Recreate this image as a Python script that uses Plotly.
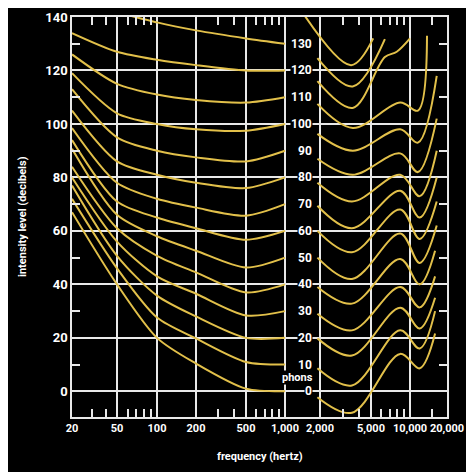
import numpy as np
import plotly.graph_objects as go

# axis: tick frequencies and where they sit on the (stretched) drawing
tick_freqs = [20, 50, 100, 200, 500, 1000, 2000, 5000, 10000, 20000]
tick_labels = ['20', '50', '100', '200', '500', '1,000', '2,000', '5,000', '10,000', '20,000']
tick_pos = [72, 117, 157, 196, 246, 285, 320, 371, 410, 447]
minor_freqs = [30, 40, 60, 70, 80, 90, 300, 400, 600, 700, 800, 900,
               3000, 4000, 6000, 7000, 8000, 9000, 15000]

phons = [0, 10, 20, 30, 40, 50, 60, 70, 80, 90, 100, 110, 120, 130]

# low-frequency branch, 20 Hz .. 1 kHz
low_freqs = [20, 50, 100, 200, 500, 1000]
low_db = {
    0:   [67, 40, 20, 10.4, 1, 0],
    10:  [72, 46, 27.6, 19.8, 11, 10],
    20:  [77, 50.7, 35.8, 28, 20, 20],
    30:  [80, 56, 43, 36.5, 28.4, 30],
    40:  [84, 61, 50.7, 44.5, 37, 40],
    50:  [90.7, 66, 58, 52.6, 46.3, 50],
    60:  [94, 71, 65, 61, 56.7, 60],
    70:  [98.5, 78, 72, 68.7, 65.7, 70],
    80:  [105, 86, 81, 78, 76, 80],
    90:  [113, 95, 90, 87.5, 86, 90],
    100: [119, 104, 100, 98, 97.5, 100],
    110: [126, 115, 111, 109, 108, 110],
    120: [134, 127, 124, 122, 120, 120],
    130: [150, 142, 138, 135, 132, 130],
}

# high-frequency branch, ~2 kHz upward: (frequencies, levels)
high = {
    0:   ([1900, 3550, 8400, 12000, 16000], [-2.2, -8, 14, 8.6, 21.6]),
    10:  ([1900, 3550, 8400, 12000, 16000], [8.6, 2.2, 22.8, 16, 30]),
    20:  ([1900, 3550, 8400, 12000, 16000], [19.8, 13.4, 31.3, 23.5, 35]),
    30:  ([1900, 3550, 8400, 12000, 16000], [29, 22.8, 39, 31.4, 43]),
    40:  ([1900, 3550, 8400, 12000, 16000], [39, 32.8, 49.5, 40, 52.6]),
    50:  ([1900, 3550, 8400, 12000, 16500], [50, 42, 59, 48, 62]),
    60:  ([1900, 3550, 8400, 12000, 16500], [60, 52, 68, 57, 71]),
    70:  ([1900, 3550, 8400, 12000, 16500], [69.4, 61, 75, 65, 80]),
    80:  ([1900, 3550, 8400, 12000, 16500], [78, 71, 81, 73, 90]),
    90:  ([1900, 3600, 8400, 11600, 16500], [87, 81, 89, 82, 102]),
    100: ([1900, 3600, 8400, 11600, 16500], [96.3, 90, 98, 93, 118]),
    110: ([1900, 3600, 8400, 11600, 13750], [107.5, 98.5, 108, 105, 133]),
    120: ([1900, 3600, 6400, 7900, 10000], [116, 106, 125, 127, 132]),
    130: ([1900, 3600, 6400], [124.6, 114, 131.7]),
    140: ([1400, 3500, 5200], [142, 122, 132]),
}

GOLD = '#e2c04a'
WHITE = '#e8e8e8'
FONT = 'Roboto, DejaVu Sans'


def xpos(f):
    return np.interp(np.log10(f), np.log10(tick_freqs), tick_pos)


fig = go.Figure()
for p in phons:
    fig.add_trace(go.Scatter(x=xpos(low_freqs), y=low_db[p], mode='lines',
                             line=dict(color=GOLD, width=2, shape='spline', smoothing=0.8),
                             hoverinfo='skip', showlegend=False))
for p, (fr, db) in high.items():
    fig.add_trace(go.Scatter(x=xpos(fr), y=db, mode='lines',
                             line=dict(color=GOLD, width=2, shape='spline', smoothing=1.0),
                             hoverinfo='skip', showlegend=False))

lab_font = dict(family=FONT, size=12, color='white')
for p in phons:
    fig.add_annotation(x=xpos(1900) - 4, y=p, text='<b>%d</b>' % p, showarrow=False,
                       xanchor='right', yanchor='middle', font=lab_font, bgcolor='black',
                       borderpad=0)
fig.add_annotation(x=xpos(1900) - 3, y=5, text='<b>phons</b>', showarrow=False,
                   xanchor='right', yanchor='middle', font=dict(family=FONT, size=11, color='white'),
                   bgcolor='black', borderpad=0)

# axis titles
fig.add_annotation(x=0.5, y=0, xref='paper', yref='paper', yanchor='top', yshift=-31,
                   text='<b>frequency (hertz)</b>', showarrow=False,
                   font=dict(family=FONT, size=11, color='white'))
fig.add_annotation(x=0, y=0.5, xref='paper', yref='paper', xanchor='center', xshift=-50,
                   textangle=-90, text='<b>intensity level (decibels)</b>',
                   showarrow=False, font=dict(family=FONT, size=11, color='white'))

# the 500 Hz line is drawn grey
fig.add_shape(type='line', x0=xpos(500), x1=xpos(500), y0=0, y1=1, yref='paper',
              line=dict(color='#8a8a8a', width=2), layer='between')

fig.update_layout(
    width=474, height=472,
    margin=dict(l=64, r=35, t=9, b=63, autoexpand=False),
    paper_bgcolor='black', plot_bgcolor='black',
    font=lab_font,
)
fig.update_xaxes(range=[72, 447], tickmode='array', tickvals=tick_pos,
                 ticktext=['<b>%s</b>' % t for t in tick_labels], tickangle=0,
                 automargin=False,
                 showgrid=True, gridcolor=WHITE, gridwidth=1.5,
                 showline=True, linecolor=WHITE, linewidth=1.5, mirror='ticks',
                 ticks='', zeroline=False, tickfont=dict(family=FONT, size=11, color='white'),
                 minor=dict(tickmode='array', tickvals=list(xpos(minor_freqs)),
                            ticks='inside', ticklen=8, tickcolor=WHITE, tickwidth=1.5,
                            showgrid=False))
fig.update_yaxes(range=[-9.6, 140], tickmode='array', tickvals=list(range(0, 141, 20)),
                 ticktext=['<b>%d</b>' % v for v in range(0, 141, 20)],
                 automargin=False,
                 showgrid=True, gridcolor=WHITE, gridwidth=1.5,
                 showline=True, linecolor=WHITE, linewidth=1.5, mirror='ticks',
                 ticks='', zeroline=False, tickfont=dict(family=FONT, size=13, color='white'),
                 minor=dict(tickmode='array', tickvals=list(range(10, 140, 20)),
                            ticks='inside', ticklen=8, tickcolor=WHITE, tickwidth=1.5,
                            showgrid=False))

fig.write_html('out.html')
